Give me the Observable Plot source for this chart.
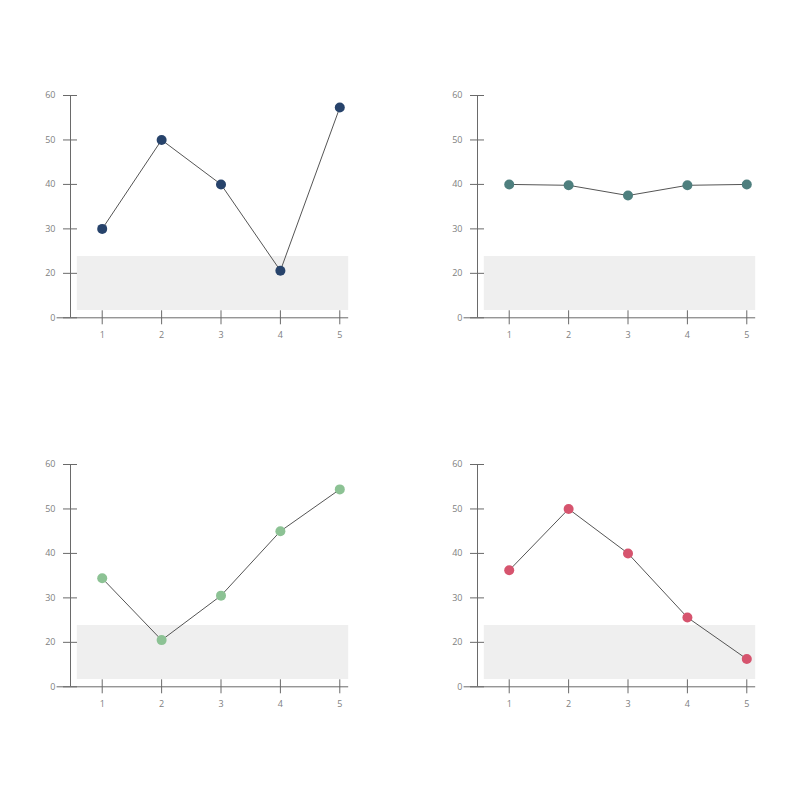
<!DOCTYPE html>
<html><head><meta charset="utf-8">
<script src="https://cdn.jsdelivr.net/npm/d3@7"></script>
<script src="https://cdn.jsdelivr.net/npm/@observablehq/plot@0.6"></script>
<style>
body{margin:0;background:#fff;}
#wrap{position:relative;width:800px;height:800px;background:#fff;overflow:hidden;}
#wrap svg{position:absolute;}
</style></head><body><div id="wrap"></div>
<script>
// ---- data ----
const categories = [1, 2, 3, 4, 5];
const yTicks = [0, 20, 30, 40, 50, 60];
const seriesA = [30, 50, 40, 20.6, 57.3];
const seriesB = [40, 39.8, 37.5, 39.8, 40];
const seriesC = [34.4, 20.5, 30.5, 45, 54.4];
const seriesD = [36.2, 50, 40, 25.6, 12.5];
const seriesColors = ["#27436b", "#4e7f7e", "#8cc294", "#d6546e"];
const bandLow = 3.3;
const bandHigh = 23.8;

// ---- layout ----
const W = 400, H = 300;
const mLeft = 70, mRight = 51.8, mTop = 35, mBottom = 42.7;
const xStart = 0.466, xEnd = 5.15, xAxisStart = 0.24, bandStart = 0.58;
const panels = [
  {values: seriesA, color: seriesColors[0], left: 0, top: 60},
  {values: seriesB, color: seriesColors[1], left: 407.3, top: 60},
  {values: seriesC, color: seriesColors[2], left: 0, top: 429.3},
  {values: seriesD, color: seriesColors[3], left: 407.3, top: 429.3}
];
const yBottom = H - mBottom, yTop = mTop;
const yRange = yTicks.map((d, i) => yBottom - i * (yBottom - yTop) / (yTicks.length - 1));

const wrap = document.getElementById("wrap");
for (const p of panels) {
  const data = categories.map((c, i) => ({x: c, y: p.values[i]}));
  const chart = Plot.plot({
    width: W, height: H,
    marginLeft: mLeft, marginRight: mRight, marginTop: mTop, marginBottom: mBottom,
    style: {fontFamily: "'Open Sans', sans-serif", fontSize: "9px", background: "transparent", overflow: "visible"},
    x: {type: "linear", domain: [xStart, xEnd]},
    y: {type: "linear", domain: yTicks, range: yRange},
    marks: [
      Plot.rect([{}], {x1: bandStart, x2: xEnd, y1: bandLow, y2: bandHigh, fill: "#efefef"}),
      Plot.ruleX([xStart], {stroke: "#6a6a6a", strokeWidth: 1}),
      Plot.ruleY([0], {x1: xAxisStart, x2: xEnd, stroke: "#6a6a6a", strokeWidth: 1}),
      Plot.axisY({ticks: yTicks, tickSize: 14, dx: 7, tickPadding: 8, tickFormat: d => d, label: null, stroke: "#6a6a6a", fill: "#808080", fontSize: 9}),
      Plot.axisX({ticks: categories, tickSize: 14, dy: -7, tickPadding: 7, tickFormat: d => d, label: null, stroke: "#6a6a6a", fill: "#808080", fontSize: 9}),
      Plot.line(data, {x: "x", y: "y", stroke: "#555", strokeWidth: 1}),
      Plot.dot(data, {x: "x", y: "y", r: 5, fill: p.color, stroke: "none"})
    ]
  });
  chart.style.left = p.left + "px";
  chart.style.top = p.top + "px";
  wrap.appendChild(chart);
}
</script></body></html>
